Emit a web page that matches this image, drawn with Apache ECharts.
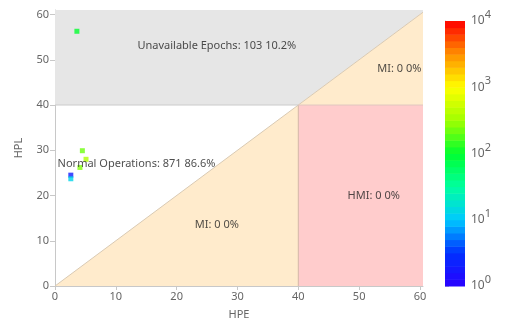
<!DOCTYPE html>
<html>
<head>
<meta charset="utf-8">
<script src="https://cdn.jsdelivr.net/npm/echarts@6/dist/echarts.min.js"></script>
<style>html,body{margin:0;padding:0;background:#fff}#c{width:508px;height:327px}</style>
</head>
<body>
<div id="c"></div>
<script>
// ---- data ----
const AL = 40;
const xMax = 60.5, yMax = 61;
const hpe = [3.6, 4.5, 5.1, 4.1, 2.6, 2.6];
const hpl = [56.3, 29.9, 28.0, 26.2, 24.5, 23.7];
const epochs = [103, 220, 380, 256, 2, 13];
const regionUnavailable = [[0, AL], [AL, AL], [70, 70], [0, 70]];
const regionMIUpper = [[AL, AL], [70, AL], [70, 70]];
const regionHMI = [[AL, 0], [70, 0], [70, AL], [AL, AL]];
const regionMILower = [[0, 0], [AL, 0], [AL, AL]];
const regionLabels = ['Unavailable Epochs: 103 10.2%', 'MI: 0 0%', 'Normal Operations: 871 86.6%', 'HMI: 0 0%', 'MI: 0 0%'];
const labelX = [26.6, 56.6, 13.4, 52.4, 26.6];
const labelY = [53.1, 48.0, 27.0, 20.0, 13.5];
const cbTicks = [0, 1, 2, 3, 4];
const cbLevels = [];
for (let i = 0; i < 40; i++) cbLevels.push(i / 10);

const jet = ['#2a00ff', '#0030ff', '#00c8ff', '#00ffa0', '#00ff30', '#a0ff00', '#ffff00', '#ff9000', '#ff0000'];
const FONT = 'Noto Sans';

const regions = [
  {pts: regionUnavailable, color: '#e6e6e6'},
  {pts: regionMIUpper, color: '#ffebcc'},
  {pts: regionHMI, color: '#ffcccc'},
  {pts: regionMILower, color: '#ffebcc'}
];
const boundaries = [[0, 0, 70, 70], [AL, 0, AL, AL], [0, AL, AL, AL], [AL, AL, 70, AL]];
const boundaryColors = ['#d9cab4', '#d4b4a6', '#cccccc', '#e0c8c0'];

const chart = echarts.init(document.getElementById('c'), null, {renderer: 'canvas'});
const sup = {b: {fontSize: 12, color: '#666', fontFamily: FONT}, s: {fontSize: 11, color: '#666', fontFamily: FONT, padding: [0, 0, 12, 0]}};

chart.setOption({
  animation: false,
  grid: [
    {left: 55, right: 85, top: 10, bottom: 41},
    {left: 445, width: 20, top: 21, bottom: 41}
  ],
  xAxis: [
    {gridIndex: 0, type: 'value', min: 0, max: xMax, interval: 10,
     name: 'HPE', nameLocation: 'middle', nameGap: 23,
     nameTextStyle: {color: '#666', fontSize: 11, fontFamily: FONT},
     splitLine: {show: false},
     axisLine: {lineStyle: {color: '#c8c8c8'}},
     axisTick: {lineStyle: {color: '#c8c8c8'}, length: 4},
     axisLabel: {color: '#666', fontSize: 11, fontFamily: FONT, margin: 5, showMaxLabel: false,
       formatter: v => (v % 10 === 0 ? v : '')}},
    {gridIndex: 1, type: 'value', min: 0, max: 1, show: false}
  ],
  yAxis: [
    {gridIndex: 0, type: 'value', min: 0, max: yMax, interval: 10,
     name: 'HPL', nameLocation: 'middle', nameGap: 31,
     nameTextStyle: {color: '#666', fontSize: 11, fontFamily: FONT},
     splitLine: {show: false},
     axisLine: {show: true, lineStyle: {color: '#c8c8c8'}},
     axisTick: {show: true, lineStyle: {color: '#c8c8c8'}, length: 5},
     axisLabel: {color: '#666', fontSize: 11, fontFamily: FONT, margin: 6, showMaxLabel: false,
       formatter: v => (v % 10 === 0 ? v : '')}},
    {gridIndex: 1, type: 'value', min: 0, max: 4, interval: 1, position: 'right',
     splitLine: {show: false},
     axisLine: {show: true, lineStyle: {color: '#c8c8c8'}},
     axisTick: {show: true, lineStyle: {color: '#c8c8c8'}, length: 4},
     axisLabel: {margin: 6, formatter: v => '{b|10}{s|' + v + '}', rich: sup}}
  ],
  visualMap: [
    {show: false, type: 'continuous', min: 0, max: 4, dimension: 2, seriesIndex: 2, inRange: {color: jet}},
    {show: false, type: 'continuous', min: 0, max: 4, dimension: 1, seriesIndex: 4, inRange: {color: jet}}
  ],
  series: [
    {type: 'custom', xAxisIndex: 0, yAxisIndex: 0, clip: true, silent: true, z: 1,
     data: regions.map((r, i) => [i]),
     renderItem: (params, api) => {
       const r = regions[params.dataIndex];
       return {type: 'polygon', shape: {points: r.pts.map(p => api.coord(p))}, style: {fill: r.color}};
     }},
    {type: 'custom', xAxisIndex: 0, yAxisIndex: 0, clip: true, silent: true, z: 2,
     data: boundaries,
     renderItem: (params, api) => {
       const a = api.coord([api.value(0), api.value(1)]);
       const b = api.coord([api.value(2), api.value(3)]);
       return {type: 'line', shape: {x1: a[0], y1: a[1], x2: b[0], y2: b[1]}, style: {stroke: boundaryColors[params.dataIndex], lineWidth: 1}};
     }},
    {type: 'scatter', xAxisIndex: 0, yAxisIndex: 0, symbol: 'rect', symbolSize: 5, z: 3,
     data: hpe.map((x, i) => [x, hpl[i], Math.log10(epochs[i])])},
    {type: 'scatter', xAxisIndex: 0, yAxisIndex: 0, symbolSize: 0, z: 4, silent: true,
     data: labelX.map((x, i) => ({value: [x, labelY[i]], label: {show: true, formatter: regionLabels[i]}})),
     label: {show: true, position: 'inside', color: '#222', fontSize: 11, fontFamily: FONT}},
    {type: 'custom', xAxisIndex: 1, yAxisIndex: 1, silent: true,
     data: cbLevels.map(v => [v, v + 0.05]),
     renderItem: (params, api) => {
       const v = api.value(0);
       const p0 = api.coord([0, v + 0.1]);
       const p1 = api.coord([1, v]);
       return {type: 'rect', shape: {x: p0[0], y: p0[1], width: p1[0] - p0[0], height: p1[1] - p0[1] + 0.5}, style: {fill: api.visual('color')}};
     }}
  ]
});
</script>
</body>
</html>
